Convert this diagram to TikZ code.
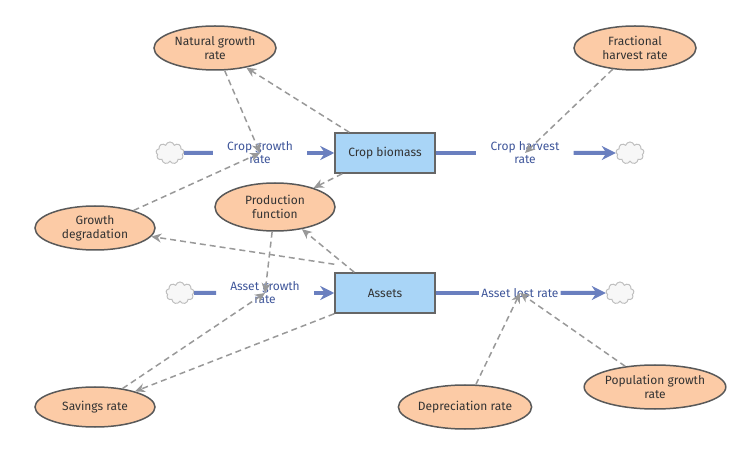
\documentclass[tikz,border=0pt]{standalone}
\usepackage{fontspec}
\setmainfont{Fira Sans}
\usetikzlibrary{shapes.geometric,shapes.symbols,arrows.meta}
\definecolor{aux}{HTML}{FCCBA6}
\definecolor{stk}{HTML}{A9D5F7}
\definecolor{pipe}{HTML}{6A7FBF}
\definecolor{lbl}{HTML}{3F569A}
\begin{document}
\begin{tikzpicture}[x=1pt,y=-1pt,
 aux/.style={ellipse,draw=black!65,line width=1.5pt,fill=aux,minimum width=122,minimum height=44,align=center,inner sep=0pt,font=\fontsize{12}{14}\selectfont,text=black!80},
 stock/.style={rectangle,draw=black!60,line width=1.5pt,fill=stk,minimum width=100,minimum height=40,font=\fontsize{12}{14}\selectfont,text=black!80},
 cld/.style={cloud,cloud puffs=9,draw=black!25,line width=1pt,fill=black!3,minimum width=28,minimum height=22,inner sep=0},
 flow/.style={align=center,text=lbl,font=\fontsize{12}{13}\selectfont,inner xsep=14pt,inner ysep=1pt},
 pipe/.style={draw=pipe,line width=4pt},
 parr/.style={pipe,-{Stealth[length=14pt,width=14pt]}},
 link/.style={draw=black!40,line width=1.5pt,dash pattern=on 6pt off 4pt,-{Stealth[length=10pt,width=9pt]}}]
\useasboundingbox (0,0) rectangle (750,454);
\node[stock] (cb) at (385,153) {Crop biomass};
\node[stock] (as) at (385,293) {Assets};
\node[cld] (c1) at (170,153) {};
\node[cld] (c2) at (630,153) {};
\node[cld] (c3) at (180,293) {};
\node[cld] (c4) at (620,293) {};
\node[flow] (cgr) at (260,153) {Crop growth\\rate};
\node[flow] (chr) at (525,153) {Crop harvest\\rate};
\node[flow] (agr) at (265,293) {Asset growth\\rate};
\node[flow,inner xsep=2pt] (alr) at (520,293) {Asset lost rate};
\node[aux] (ngr) at (215,48) {Natural growth\\rate};
\node[aux] (fhr) at (635,48) {Fractional\\harvest rate};
\node[aux,minimum width=120,minimum height=48] (pf) at (275,207) {Production\\function};
\node[aux,minimum width=120] (gd) at (95,228) {Growth\\degradation};
\node[aux,minimum width=120,minimum height=40] (sr) at (95,407) {Savings rate};
\node[aux,minimum width=120] (dr) at (465,407) {Depreciation rate};
\node[aux,minimum width=120] (pgr) at (655,387) {Population growth\\rate};
% pipes
\draw[pipe] (c1.east) -- (cgr.west);
\draw[parr] (cgr.east) -- (cb.west);
\draw[pipe] (cb.east) -- (chr.west);
\draw[parr] (chr.east) -- (c2.west);
\draw[pipe] (c3.east) -- (agr.west);
\draw[parr] (agr.east) -- (as.west);
\draw[pipe] (as.east) -- (alr.west);
\draw[parr] (alr.east) -- (c4.west);
% links
\draw[link] (cb.north west) ++(15,0) -- (ngr);
\draw[link] (ngr) -- (cgr.center);
\draw[link] (fhr) -- (chr.center);
\draw[link] (cb.south west) ++(8,0) -- (pf);
\draw[link] (gd) -- (cgr.center);
\draw[link] ([xshift=20]as.north west) -- (pf);
\draw[link] ([yshift=8]as.north west) -- (gd);
\draw[link] (pf) -- (agr.center);
\draw[link] (sr) -- (agr.center);
\draw[link] (as.south west) -- (sr);
\draw[link] (dr) -- (alr.center);
\draw[link] (pgr) -- (alr.center);
\end{tikzpicture}
\end{document}
